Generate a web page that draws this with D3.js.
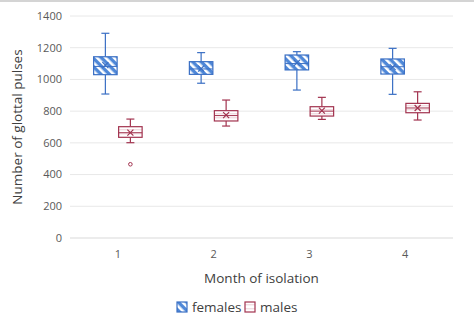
<!DOCTYPE html>
<html>
<head>
<meta charset="utf-8">
<script src="https://cdn.jsdelivr.net/npm/d3@7"></script>
<style>
  html, body { margin: 0; padding: 0; background: #fff; }
  svg { display: block; font-family: "Open Sans", "Noto Sans", sans-serif; }
</style>
</head>
<body>
<div id="chart"></div>
<script>
const months = ["1", "2", "3", "4"];
const series = ["females", "males"];
const yTicks = [0, 200, 400, 600, 800, 1000, 1200, 1400];

// five-number summaries plus mean, per month
const femalesMin = [908, 976, 933, 906];
const femalesQ1 = [1030, 1032, 1060, 1034];
const femalesMedian = [1082, 1066, 1100, 1080];
const femalesQ3 = [1143, 1112, 1154, 1129];
const femalesMax = [1291, 1169, 1175, 1196];
const femalesMean = [1090, 1068, 1104, 1078];

const malesMin = [601, 706, 748, 744];
const malesQ1 = [635, 738, 769, 790];
const malesMedian = [664, 772, 800, 820];
const malesQ3 = [702, 803, 828, 849];
const malesMax = [750, 870, 887, 922];
const malesMean = [665, 775, 803, 820];
const malesOutliers = [[465], [], [], []];

const W = 474, H = 331;
const margin = { top: 16, right: 21, bottom: 93, left: 70 };

const palette = {
  females: { stroke: "#3a6fc4", fill: "#4f88d8" },
  males: { stroke: "#a2334f", fill: "#e3bcc5" },
};

function rows(mins, q1s, meds, q3s, maxs, means, outs) {
  return months.map((m, i) => ({
    month: m, min: mins[i], q1: q1s[i], median: meds[i], q3: q3s[i],
    max: maxs[i], mean: means[i], outliers: outs ? outs[i] : [],
  }));
}
const data = {
  females: rows(femalesMin, femalesQ1, femalesMedian, femalesQ3, femalesMax, femalesMean),
  males: rows(malesMin, malesQ1, malesMedian, malesQ3, malesMax, malesMean, malesOutliers),
};

const svg = d3.select("#chart").append("svg").attr("width", W).attr("height", H);

// patterns for the box fills
const defs = svg.append("defs");
const diag = defs.append("pattern").attr("id", "pat-females")
  .attr("patternUnits", "userSpaceOnUse").attr("width", 6).attr("height", 6)
  .attr("patternTransform", "rotate(45)");
diag.append("rect").attr("width", 6).attr("height", 6).attr("fill", "#fff");
diag.append("rect").attr("width", 6).attr("height", 3.4).attr("fill", palette.females.fill);

const horiz = defs.append("pattern").attr("id", "pat-males")
  .attr("patternUnits", "userSpaceOnUse").attr("width", 4).attr("height", 4);
horiz.append("rect").attr("width", 4).attr("height", 4).attr("fill", "#fff");
horiz.append("rect").attr("y", 1.5).attr("width", 4).attr("height", 0.7).attr("fill", palette.males.fill);

// top strip
svg.append("rect").attr("x", 0).attr("y", 0).attr("width", W).attr("height", 2).attr("fill", "#d4d4d4");

const x0 = d3.scaleBand().domain(months).range([margin.left, W - margin.right]);
const x1 = d3.scaleBand().domain(series).range([-25, 25]);
const y = d3.scaleLinear().domain([0, 1400]).range([H - margin.bottom, margin.top]);

// gridlines
svg.append("g").selectAll("line").data(yTicks).join("line")
  .attr("x1", margin.left).attr("x2", W - margin.right)
  .attr("y1", (d) => y(d)).attr("y2", (d) => y(d))
  .attr("stroke", (d) => (d === 0 ? "#d9d9d9" : "#e8e8e8")).attr("stroke-width", 1);

// y tick labels
svg.append("g").selectAll("text").data(yTicks).join("text")
  .attr("x", margin.left - 8).attr("y", (d) => y(d)).attr("dy", "0.35em")
  .attr("text-anchor", "end").attr("font-size", 11).attr("fill", "#595959")
  .text((d) => d);

// x tick labels
svg.append("g").selectAll("text").data(months).join("text")
  .attr("x", (d) => x0(d) + x0.bandwidth() / 2).attr("y", H - margin.bottom + 20)
  .attr("text-anchor", "middle").attr("font-size", 11).attr("fill", "#595959")
  .text((d) => d);

// axis titles
svg.append("text")
  .attr("x", (margin.left + W - margin.right) / 2).attr("y", 283)
  .attr("text-anchor", "middle").attr("font-size", 13.5).attr("fill", "#404040")
  .text("Month of isolation");
svg.append("text")
  .attr("transform", `translate(22,${(margin.top + H - margin.bottom) / 2}) rotate(-90)`)
  .attr("text-anchor", "middle").attr("font-size", 13.5).attr("fill", "#404040")
  .text("Number of glottal pulses");

const boxW = 23.5;
const capW = 8;
const xm = 3;

series.forEach((s) => {
  const col = palette[s];
  const g = svg.append("g").selectAll("g").data(data[s]).join("g")
    .attr("transform", (d) => `translate(${x0(d.month) + x0.bandwidth() / 2 + x1(s) + x1.bandwidth() / 2},0)`);

  // whiskers and caps
  g.append("line").attr("y1", (d) => y(d.max)).attr("y2", (d) => y(d.q3))
    .attr("stroke", col.stroke).attr("stroke-width", 1.2);
  g.append("line").attr("y1", (d) => y(d.q1)).attr("y2", (d) => y(d.min))
    .attr("stroke", col.stroke).attr("stroke-width", 1.2);
  g.append("line").attr("x1", -capW / 2).attr("x2", capW / 2)
    .attr("y1", (d) => y(d.max)).attr("y2", (d) => y(d.max))
    .attr("stroke", col.stroke).attr("stroke-width", 1.2);
  g.append("line").attr("x1", -capW / 2).attr("x2", capW / 2)
    .attr("y1", (d) => y(d.min)).attr("y2", (d) => y(d.min))
    .attr("stroke", col.stroke).attr("stroke-width", 1.2);

  // box
  g.append("rect").attr("x", -boxW / 2).attr("width", boxW)
    .attr("y", (d) => y(d.q3)).attr("height", (d) => y(d.q1) - y(d.q3))
    .attr("fill", `url(#pat-${s})`).attr("stroke", col.stroke).attr("stroke-width", 1.2);

  // median
  g.append("line").attr("x1", -boxW / 2).attr("x2", boxW / 2)
    .attr("y1", (d) => y(d.median)).attr("y2", (d) => y(d.median))
    .attr("stroke", col.stroke).attr("stroke-width", 1);

  // mean marker
  g.append("path")
    .attr("d", (d) => {
      const cy = y(d.mean);
      return `M${-xm},${cy - xm}L${xm},${cy + xm}M${-xm},${cy + xm}L${xm},${cy - xm}`;
    })
    .attr("stroke", col.stroke).attr("stroke-width", 1.2).attr("fill", "none");

  // outliers
  g.selectAll("circle").data((d) => d.outliers).join("circle")
    .attr("cy", (v) => y(v)).attr("r", 1.8)
    .attr("fill", "#fff").attr("stroke", col.stroke).attr("stroke-width", 1);
});

// legend
const legend = svg.append("g").attr("transform", "translate(177,307)");
const items = [
  { key: "females", x: 0, label: "females" },
  { key: "males", x: 68, label: "males" },
];
const li = legend.selectAll("g").data(items).join("g").attr("transform", (d) => `translate(${d.x},0)`);
li.append("rect").attr("x", 0).attr("y", -5).attr("width", 10).attr("height", 10)
  .attr("fill", (d) => `url(#pat-${d.key})`).attr("stroke", (d) => palette[d.key].stroke).attr("stroke-width", 1.2);
li.append("text").attr("x", 15).attr("y", 0).attr("dy", "0.35em")
  .attr("font-size", 13.5).attr("fill", "#404040").text((d) => d.label);
</script>
</body>
</html>
